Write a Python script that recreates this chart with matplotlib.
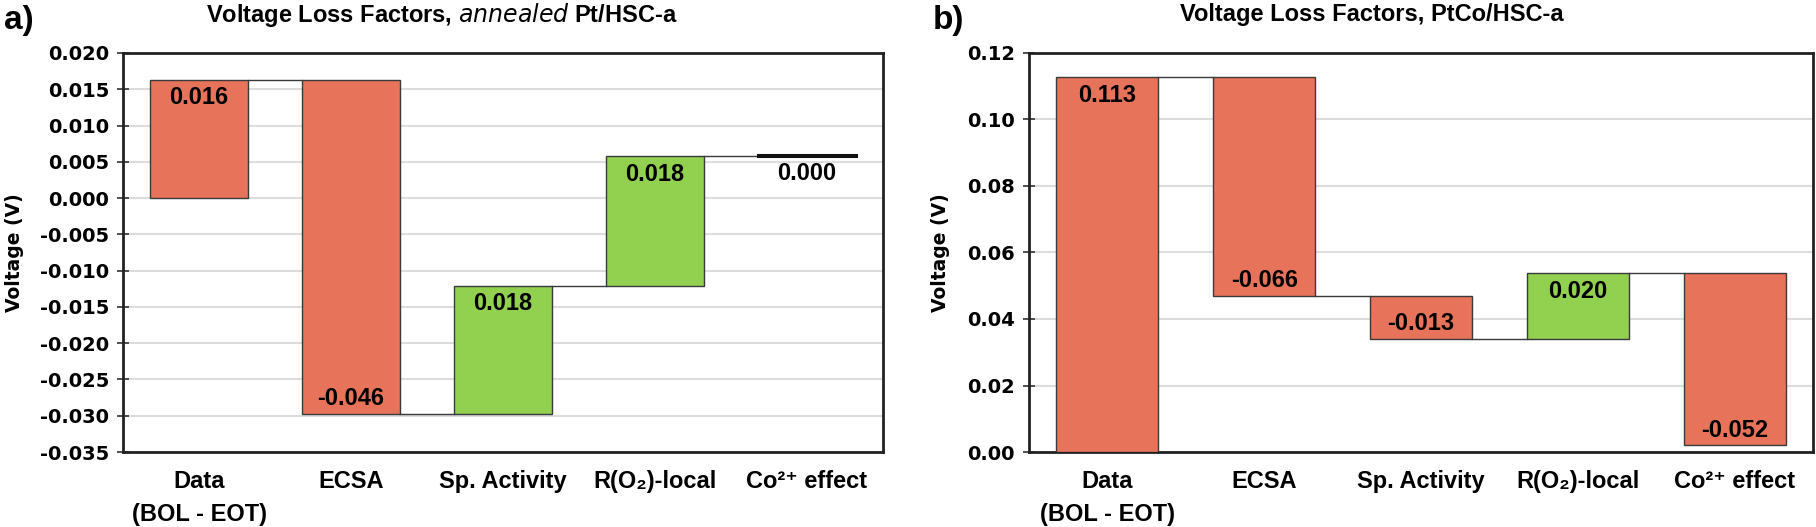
import matplotlib
matplotlib.use("Agg")
import matplotlib.pyplot as plt
import numpy as np

plt.rcParams['axes.unicode_minus'] = False

categories = ["Data\n(BOL - EOT)", "ECSA", "Sp. Activity", "R(O\u2082)-local", "Co\u00b2\u207a effect"]

# panel a: annealed Pt/HSC-a  (first = data, rest = changes)
values_a = [0.0163, -0.0460, 0.0176, 0.0179, 0.0001]
# panel b: PtCo/HSC-a
values_b = [0.1127, -0.0658, -0.0129, 0.0198, -0.0518]

title_b = "Voltage Loss Factors, PtCo/HSC-a"
yticks_a = np.arange(-0.035, 0.0201, 0.005)
yticks_b = np.arange(0.0, 0.1201, 0.02)

RED = '#E6735A'
GREEN = '#92D050'
EDGE = '#3A3A3A'
NARROW = ['Liberation Sans Narrow', 'Liberation Sans', 'DejaVu Sans']
TICKF = ['DejaVu Sans']

W, H = 1816, 527
fig = plt.figure(figsize=(W / 100, H / 100), dpi=100)


def waterfall(ax, values, yticks, fmt, ylim):
    x = np.arange(len(values))
    starts, ends = [], []
    cum = 0.0
    for i, v in enumerate(values):
        s = 0.0 if i == 0 else cum
        e = s + v
        starts.append(s)
        ends.append(e)
        cum = e
    starts = np.array(starts)
    ends = np.array(ends)
    bottoms = np.minimum(starts, ends)
    heights = np.abs(ends - starts)
    colors = [RED if (v < 0 or i == 0) else GREEN for i, v in enumerate(values)]
    span = ylim[1] - ylim[0]
    lws = [2.2 if h < 0.005 * span else 1.0 for h in heights]
    ecs = ['#111111' if h < 0.005 * span else EDGE for h in heights]
    bw = 0.65
    ax.bar(x, heights, bottom=bottoms, width=bw, color=colors,
           edgecolor=ecs, linewidth=lws, zorder=3)
    # connectors
    for i in range(len(values) - 1):
        ax.plot([x[i] + bw / 2, x[i + 1] - bw / 2], [ends[i], ends[i]],
                color=EDGE, lw=1.0, zorder=2)
    # value labels
    for i, v in enumerate(values):
        off = -13 if v >= 0 else 11
        ax.annotate(f"{v:.3f}", (x[i], ends[i]), xytext=(0, off),
                    textcoords='offset points', ha='center', va='center',
                    fontsize=17, fontweight='bold', family=NARROW, zorder=4)
    ax.set_xlim(-0.5, len(values) - 0.5)
    ax.set_ylim(*ylim)
    ax.set_yticks(yticks)
    ax.set_yticklabels([fmt.format(t) for t in yticks], fontsize=14,
                       fontweight='bold', family=TICKF)
    ax.set_xticks(x)
    ax.set_xticklabels(categories, fontsize=17, fontweight='bold', family=NARROW,
                       linespacing=1.55, va='top')
    ax.tick_params(axis='x', length=0, pad=13)
    ax.tick_params(axis='y', direction='inout', length=8, width=1.2,
                   color='#333333', pad=6)
    ax.yaxis.grid(True, color='#DCDCDC', lw=1.5, zorder=0)
    ax.set_axisbelow(True)
    for sp in ax.spines.values():
        sp.set_linewidth(2.0)
        sp.set_color('#222222')
    ax.set_ylabel("Voltage (V)", fontsize=13.5, fontweight='bold', family=TICKF)


ax1 = fig.add_axes([123 / W, 1 - 452 / H, 760 / W, 399 / H])
waterfall(ax1, values_a, yticks_a, "{:.3f}", (-0.035, 0.020))
ax1.yaxis.set_label_coords(-(123 - 24) / 760, 0.5)

ax2 = fig.add_axes([1029 / W, 1 - 452 / H, 784 / W, 399 / H])
waterfall(ax2, values_b, yticks_b, "{:.2f}", (0.0, 0.12))
ax2.yaxis.set_label_coords(-(1029 - 950) / 784, 0.5)

# titles
fig.text(442 / W, 1 - 15 / H,
         r"Voltage Loss Factors, $\mathit{annealed}$ Pt/HSC-a",
         ha='center', va='center', fontsize=17, fontweight='bold', family=NARROW)
fig.text(1372 / W, 1 - 15 / H, title_b, ha='center', va='center',
         fontsize=17, fontweight='bold', family=NARROW)

fig.text(4 / W, 1 - 21 / H, "a)", ha='left', va='center', fontsize=24,
         fontweight='bold', family=NARROW)
fig.text(933 / W, 1 - 21 / H, "b)", ha='left', va='center', fontsize=24,
         fontweight='bold', family=NARROW)

fig.savefig("out.png", dpi=100)
